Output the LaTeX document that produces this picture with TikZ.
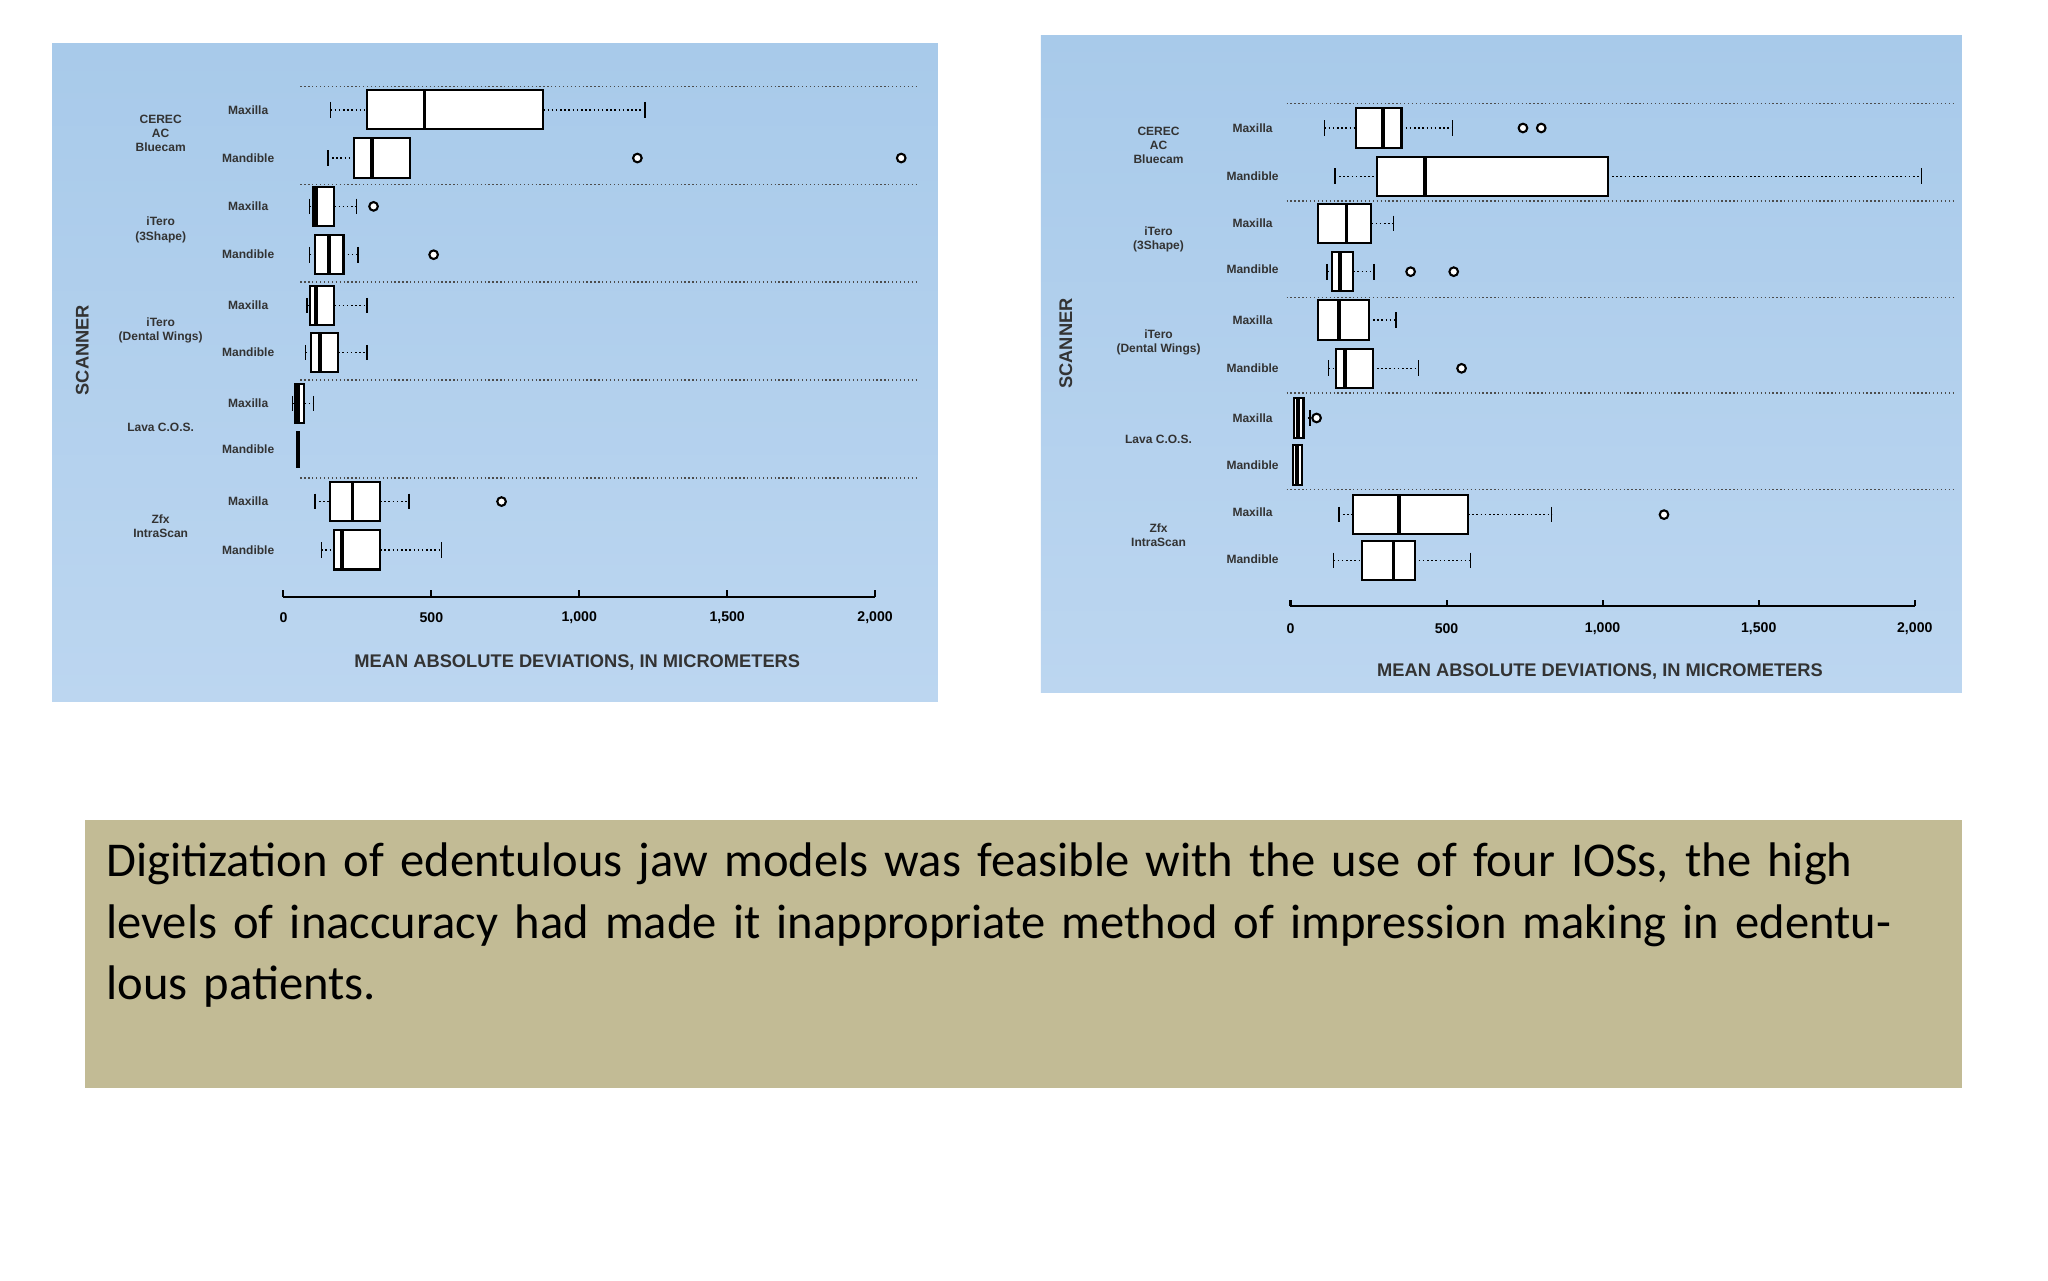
\documentclass[tikz,border=0pt]{standalone}
\usepackage{fontspec}
\setmainfont{Carlito}
\newfontfamily\chf{Liberation Sans}
\definecolor{panel}{HTML}{A8CAEA}
\definecolor{panelb}{HTML}{BCD6F0}
\definecolor{note}{HTML}{C2BB95}
\newcommand\bpl[6]{%
 \draw[whisk] (#2,#1) -- (#3,#1);
 \draw[whisk] (#5,#1) -- (#6,#1);
 \draw[wcap] (#2,#1-6) -- (#2,#1+6);
 \draw[wcap] (#6,#1-6) -- (#6,#1+6);
 \draw[boxst] (#3,#1-15) rectangle (#5,#1+15);
 \draw[med] (#4,#1-15) -- (#4,#1+15);}
\newcommand\outl[2]{\draw[black,line width=0.8pt,fill=white] (#2,#1) circle (3.3);}
\begin{document}
\begin{tikzpicture}[x=0.5pt,y=-0.5pt,
 whisk/.style={densely dotted,line width=0.6pt},
 wcap/.style={line width=0.6pt},
 boxst/.style={fill=white,draw=black,line width=0.8pt},
 med/.style={line width=1.4pt},
 sep/.style={densely dotted,line width=0.5pt,black!70},
 lab/.style={font=\chf\bfseries\fontsize{4.6}{5.4}\selectfont,align=center,text=black!80},
 tick/.style={font=\chf\bfseries\fontsize{5.4}{6}\selectfont},
 ttl/.style={font=\chf\bfseries\fontsize{7}{8}\selectfont,text=black!80}]
\useasboundingbox (0,0) rectangle (1568,980);
\fill[white] (0,0) rectangle (1568,980);
% panels
\shade[top color=panel,bottom color=panelb] (40,33) rectangle (718,537);
\shade[top color=panel,bottom color=panelb] (797,27) rectangle (1502,530);
% ---------- left ----------
\foreach \y in {66,141,216,291,366} \draw[sep] (230,\y) -- (703,\y);
\draw[line width=0.8pt] (217,457) -- (670,457);
\foreach \v/\t in {0/0,500/500,1000/{1,000},1500/{1,500},2000/{2,000}}{
 \draw[line width=0.8pt] (217+0.2265*\v,457) -- (217+0.2265*\v,452);
 \node[tick] at (217+0.2265*\v,473) {\t};}
\node[ttl] at (442,507) {MEAN ABSOLUTE DEVIATIONS, IN MICROMETERS};
\node[ttl,rotate=90] at (63,268) {SCANNER};
\node[lab] at (123,102) {CEREC\\AC\\Bluecam};
\node[lab] at (123,176) {iTero\\(3Shape)};
\node[lab] at (123,253) {iTero\\(Dental Wings)};
\node[lab] at (123,327) {Lava C.O.S.};
\node[lab] at (123,403) {Zfx\\IntraScan};
\foreach \y/\t in {84/Maxilla,121/Mandible,158/Maxilla,195/Mandible,234/Maxilla,270/Mandible,309/Maxilla,344/Mandible,384/Maxilla,421/Mandible}
 \node[lab] at (190,\y) {\t};
\bpl{84}{253}{281}{325}{416}{494}
\bpl{121}{251}{271}{285}{314}{314}
\outl{121}{488}\outl{121}{690}
\bpl{158}{237}{240}{242}{256}{273}\outl{158}{286}
\bpl{195}{237}{241}{252}{263}{274}\outl{195}{332}
\bpl{234}{235}{237}{242}{256}{281}
\bpl{270}{234}{238}{245}{259}{281}
\bpl{309}{224}{226}{228}{233}{240}
\draw[med] (228,330) -- (228,358);
\bpl{384}{241}{253}{270}{291}{313}\outl{384}{384}
\bpl{421}{246}{256}{262}{291}{338}
% ---------- right ----------
\foreach \y in {79,154,228,301,375} \draw[sep] (985,\y) -- (1497,\y);
\draw[line width=0.8pt] (988,464) -- (1466,464);
\foreach \v/\t in {0/0,500/500,1000/{1,000},1500/{1,500},2000/{2,000}}{
 \draw[line width=0.8pt] (988+0.239*\v,464) -- (988+0.239*\v,459);
 \node[tick] at (988+0.239*\v,481) {\t};}
\node[ttl] at (1225,514) {MEAN ABSOLUTE DEVIATIONS, IN MICROMETERS};
\node[ttl,rotate=90] at (816,263) {SCANNER};
\node[lab] at (887,111) {CEREC\\AC\\Bluecam};
\node[lab] at (887,183) {iTero\\(3Shape)};
\node[lab] at (887,262) {iTero\\(Dental Wings)};
\node[lab] at (887,336) {Lava C.O.S.};
\node[lab] at (887,410) {Zfx\\IntraScan};
\foreach \y/\t in {98/Maxilla,135/Mandible,171/Maxilla,206/Mandible,245/Maxilla,282/Mandible,320/Maxilla,356/Mandible,392/Maxilla,428/Mandible}
 \node[lab] at (959,\y) {\t};
\bpl{98}{1014}{1038}{1059}{1073}{1112}\outl{98}{1166}\outl{98}{1180}
\bpl{135}{1022}{1054}{1091}{1231}{1471}
\bpl{171}{1009}{1009}{1031}{1050}{1067}
\bpl{208}{1016}{1020}{1026}{1036}{1052}\outl{208}{1080}\outl{208}{1113}
\bpl{245}{1009}{1009}{1025}{1048}{1069}
\bpl{282}{1017}{1023}{1030}{1051}{1086}\outl{282}{1119}
\bpl{320}{991}{991}{994}{998}{1003}\outl{320}{1008}
\bpl{356}{990}{990}{993}{997}{997}
\bpl{394}{1025}{1036}{1071}{1124}{1188}\outl{394}{1274}
\bpl{429}{1021}{1043}{1067}{1083}{1126}
% ---------- note ----------
\fill[note] (65,628) rectangle (1502,833);
\node[anchor=north west,text width=700pt,align=left,font=\fontsize{18.6}{23.5}\selectfont,inner sep=0pt] at (81,645)
 {\hyphenpenalty=10000 Digitization of edentulous jaw models was feasible with the use of four IOSs, the high levels of inaccuracy had made it inappropriate method of impression making in edentulous patients.};
\end{tikzpicture}
\end{document}
